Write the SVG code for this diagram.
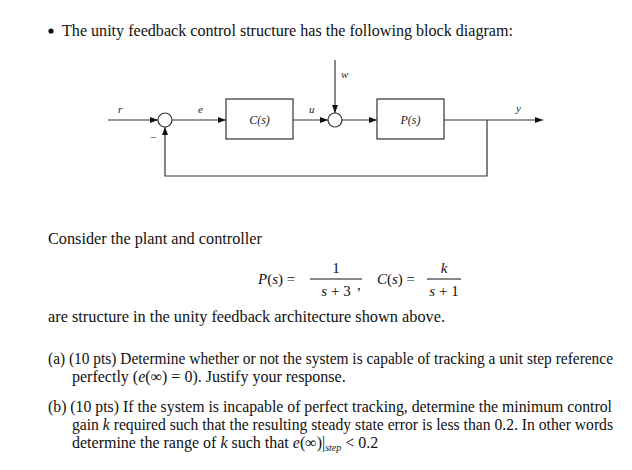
<svg xmlns="http://www.w3.org/2000/svg" width="632" height="470" viewBox="0 0 632 470">
<style>
.t{font-family:"Liberation Serif",serif;font-size:16px;fill:#111}
.m{font-family:"Liberation Serif",serif;font-style:italic;font-size:11px;fill:#222}
.b{fill:#fff;stroke:#333;stroke-width:1.2}
.c{fill:none;stroke:#333;stroke-width:1.2}
</style>
<defs><marker id="a" markerWidth="8" markerHeight="6" refX="8" refY="3" orient="auto" markerUnits="userSpaceOnUse"><path d="M0,0L8,3L0,6z" fill="#111"/></marker></defs>
<rect width="632" height="470" fill="#fff"/>
<circle cx="51" cy="31" r="2.6" fill="#111"/>
<text class="t" x="62" y="36" textLength="451" lengthAdjust="spacingAndGlyphs">The unity feedback control structure has the following block diagram:</text>
<g id="connectors" class="c">
<path d="M108,120H158" marker-end="url(#a)"/>
<path d="M172,120H226" marker-end="url(#a)"/>
<path d="M293,120H328" marker-end="url(#a)"/>
<path d="M335,60V113" marker-end="url(#a)"/>
<path d="M342,120H377" marker-end="url(#a)"/>
<path d="M444,120H543" marker-end="url(#a)"/>
<path d="M487,120V176H165V127" marker-end="url(#a)"/>
</g>
<g id="sum1"><circle class="b" cx="165" cy="120" r="7"/></g>
<g id="sum2"><circle class="b" cx="335" cy="120" r="7"/></g>
<g id="C"><rect class="b" x="226" y="99" width="67" height="40"/><text class="m" x="259.5" y="124" text-anchor="middle" style="font-size:12px">C(s)</text></g>
<g id="P"><rect class="b" x="377" y="99" width="67" height="40"/><text class="m" x="410.5" y="124" text-anchor="middle" style="font-size:12px">P(s)</text></g>
<text class="m" x="118" y="113">r</text>
<text class="m" x="198" y="113">e</text>
<text class="m" x="309" y="113">u</text>
<text class="m" x="341" y="78">w</text>
<text class="m" x="516" y="112">y</text>
<text class="m" x="150" y="141" style="font-style:normal">−</text>
<text class="t" x="48" y="244" textLength="214" lengthAdjust="spacingAndGlyphs">Consider the plant and controller</text>
<g class="t" style="font-size:15px">
<text x="258" y="284"><tspan font-style="italic">P</tspan>(<tspan font-style="italic">s</tspan>) =</text>
<text x="336" y="273" text-anchor="middle">1</text>
<line x1="310" y1="279" x2="362" y2="279" stroke="#111"/>
<text x="336" y="296" text-anchor="middle"><tspan font-style="italic">s</tspan> + 3</text>
<text x="357" y="290">,</text>
<text x="377" y="284"><tspan font-style="italic">C</tspan>(<tspan font-style="italic">s</tspan>) =</text>
<text x="444" y="273" text-anchor="middle" font-style="italic">k</text>
<line x1="427" y1="279" x2="461" y2="279" stroke="#111"/>
<text x="444" y="296" text-anchor="middle"><tspan font-style="italic">s</tspan> + 1</text>
</g>
<text class="t" x="48" y="322" textLength="397" lengthAdjust="spacingAndGlyphs">are structure in the unity feedback architecture shown above.</text>
<text class="t" x="48" y="364" textLength="565" lengthAdjust="spacingAndGlyphs">(a) (10 pts) Determine whether or not the system is capable of tracking a unit step reference</text>
<text class="t" x="72" y="382">perfectly (<tspan font-style="italic">e</tspan>(∞) = 0). Justify your response.</text>
<text class="t" x="48" y="412" textLength="564" lengthAdjust="spacingAndGlyphs">(b) (10 pts) If the system is incapable of perfect tracking, determine the minimum control</text>
<text class="t" x="72" y="430" textLength="541" lengthAdjust="spacingAndGlyphs">gain <tspan font-style="italic">k</tspan> required such that the resulting steady state error is less than 0.2. In other words</text>
<text class="t" x="72" y="448">determine the range of <tspan font-style="italic">k</tspan> such that <tspan font-style="italic">e</tspan>(∞)|<tspan font-style="italic" font-size="10px" dy="3">step</tspan><tspan dy="-3"> &lt; 0.2</tspan></text>
</svg>
